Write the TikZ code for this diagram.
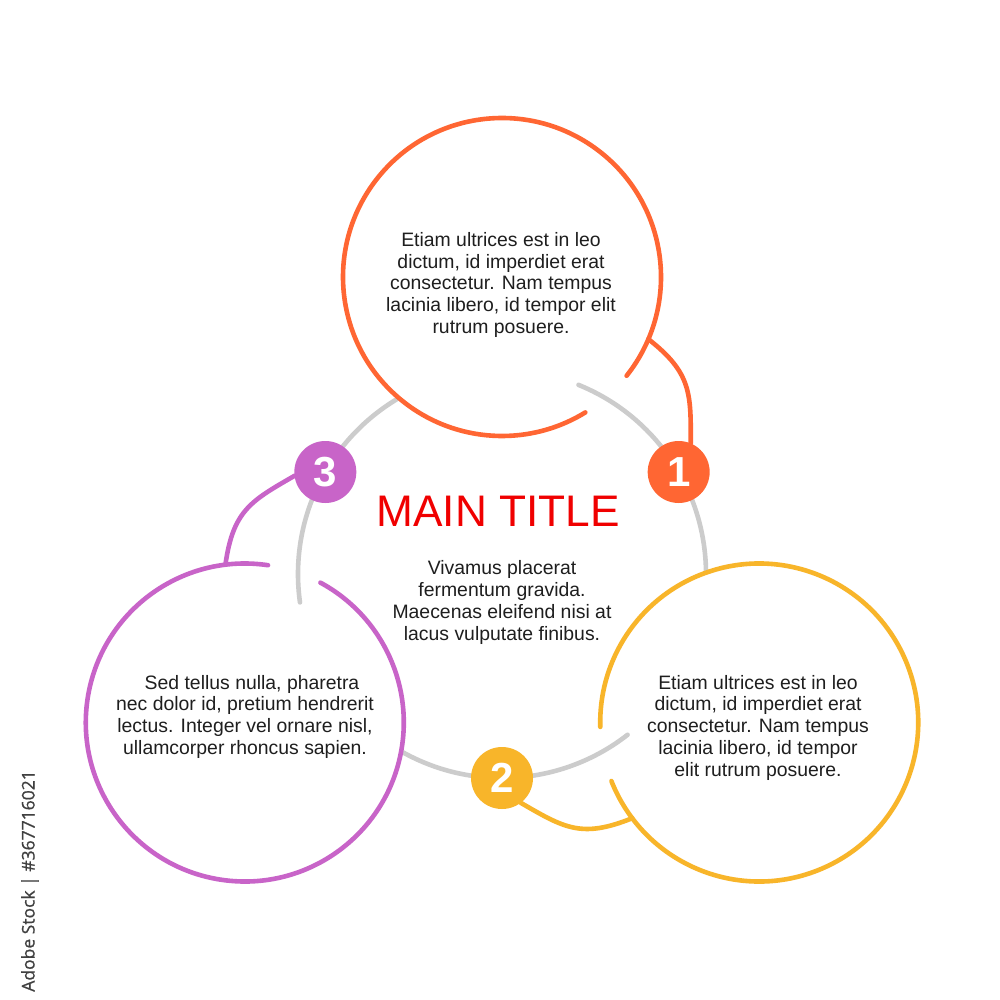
\documentclass[tikz,border=0pt]{standalone}
\usepackage{fontspec}
\setmainfont{Liberation Sans}
\newfontfamily\wmfont{Open Sans}[FakeBold=0.8]
\usetikzlibrary{calc}
\definecolor{cOr}{RGB}{255,102,51}
\definecolor{cYe}{RGB}{248,181,42}
\definecolor{cPu}{RGB}{200,100,200}
\definecolor{cGr}{RGB}{204,204,204}
\definecolor{cRd}{RGB}{240,0,0}
\definecolor{cTx}{RGB}{30,30,30}
\begin{document}
\begin{tikzpicture}[x=1pt,y=1pt,
  ring/.style={line width=4.6pt, line cap=round},
  grayarc/.style={line width=4.6pt, line cap=round, draw=cGr},
  badge/.style={circle, minimum size=62pt, inner sep=0pt, text=white,
    font=\bfseries\fontsize{42}{42}\selectfont},
  body/.style={align=center, font=\fontsize{19.4}{21.7}\selectfont, text=cTx, inner sep=0pt, anchor=base},
  title/.style={font=\fontsize{44.2}{44.2}\selectfont, text=cRd, inner sep=0pt, anchor=base},
  wmark/.style={font=\wmfont\fontsize{17.5}{17.5}\selectfont, text=black!75, inner sep=0pt, rotate=90},
]
\useasboundingbox (0,0) rectangle (1000,-1000);
\fill[white] (0,0) rectangle (1000,-1000);
\coordinate (C) at (502,-574);

% gray ring segments
\foreach \r [count=\i] in {0,-120,120}{
  \draw[grayarc] ([shift={(68+\r:204)}]C) arc[start angle=68+\r, delta angle=-67, radius=204];
}

% coloured circles, connectors, badges
\foreach \r/\c/\n in {0/cOr/1, -120/cYe/2, 120/cPu/3}{
  \coordinate (K\n) at ([shift={(90+\r:297)}]C);
  \coordinate (Bc\n) at ([shift={(30+\r:204)}]C);
  \coordinate (S\n) at ([shift={(-23+\r:159)}]K\n);
  \coordinate (E\n) at ([shift={(67+\r:31)}]Bc\n);
  \draw[ring, draw=\c] ([shift={(-38.4+\r:159)}]K\n) arc[start angle=-38.4+\r, delta angle=340, radius=159];
  \draw[ring, draw=\c] (S\n) .. controls ([shift={(-38+\r:55)}]S\n) and ([shift={(90+\r:50)}]E\n) .. (E\n);
  \node[badge, fill=\c] (B\n) at (Bc\n) {\n};
}

% texts (base anchor = baseline of the last line)
\node[title] (title) at (498,-526.7) {MAIN TITLE};
\node[body] (tc) at (502,-640) {Vivamus placerat\\fermentum gravida.\\Maecenas eleifend nisi at\\lacus vulputate finibus.};
\node[body] (t1) at (501,-333.3) {Etiam ultrices est in leo\\dictum, id imperdiet erat\\consectetur. Nam tempus\\lacinia libero, id tempor elit\\rutrum posuere.};
\node[body] (t2) at (758,-776) {Etiam ultrices est in leo\\dictum, id imperdiet erat\\consectetur. Nam tempus\\lacinia libero, id tempor\\elit rutrum posuere.};
\node[body] (t3) at (245,-754.3) {\hspace*{14pt}Sed tellus nulla, pharetra\\nec dolor id, pretium hendrerit\\lectus. Integer vel ornare nisl,\\ullamcorper rhoncus sapien.};
\node[wmark] (wm) at (30,-881) {Adobe Stock | \#367716021};
\end{tikzpicture}
\end{document}
